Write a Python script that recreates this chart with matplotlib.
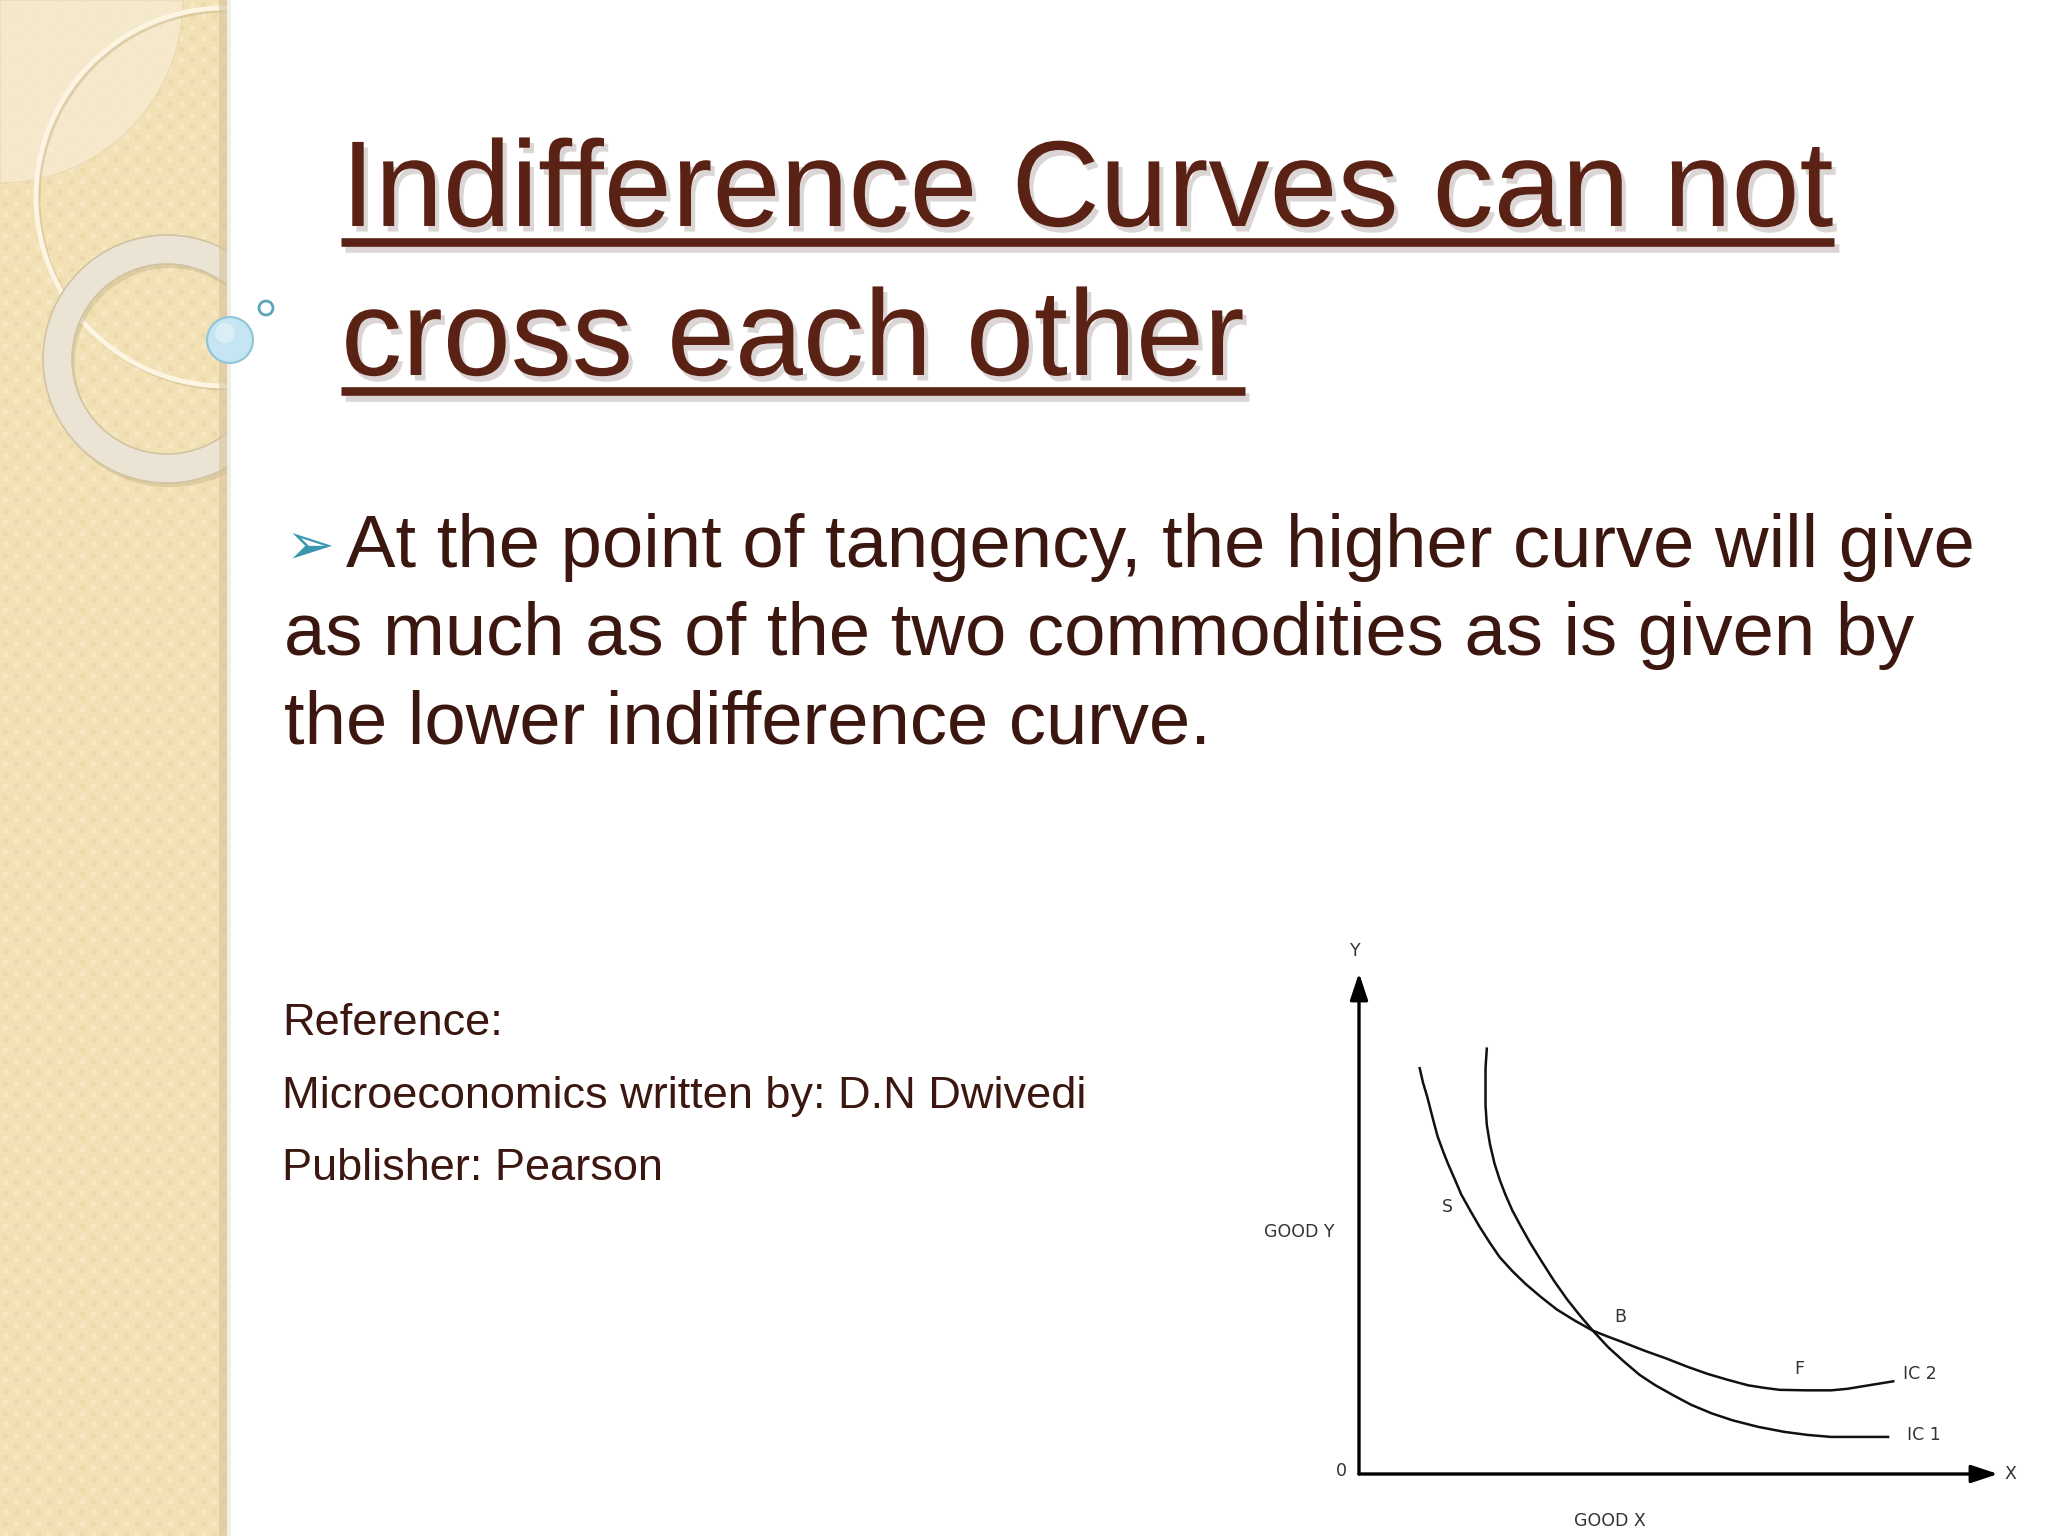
import numpy as np
import matplotlib
matplotlib.use("Agg")
import matplotlib.pyplot as plt
from matplotlib import patches
from matplotlib import patheffects as pe

# ---- slide text ----
title_lines = ["Indifference Curves can not", "cross each other"]
bullet_lines = ["At the point of tangency, the higher curve will give",
                "as much as of the two commodities as is given by",
                "the lower indifference curve."]
ref_lines = ["Reference:",
             "Microeconomics written by: D.N Dwivedi",
             "Publisher: Pearson"]

# ---- diagram data (axes run 0..10) ----
ic2_x = [0.95, 1.00, 1.07, 1.15, 1.23, 1.31, 1.39, 1.50, 1.60, 1.74, 1.88, 2.04, 2.20,
         2.40, 2.61, 2.85, 3.10, 3.38, 3.66, 3.90, 4.15, 4.47, 4.80, 5.12, 5.45,
         5.77, 6.09, 6.34, 6.58, 7.00, 7.39, 7.64, 7.88, 8.12, 8.36]
ic2_y = [8.10, 7.82, 7.52, 7.12, 6.74, 6.46, 6.20, 5.88, 5.58, 5.26, 4.95, 4.63, 4.33,
         4.05, 3.79, 3.53, 3.28, 3.06, 2.86, 2.74, 2.62, 2.46, 2.31, 2.15, 2.00,
         1.88, 1.77, 1.72, 1.68, 1.67, 1.67, 1.70, 1.75, 1.80, 1.85]
ic1_x = [2.00, 1.98, 1.98, 1.98, 2.00, 2.05, 2.12, 2.20, 2.29, 2.40, 2.53, 2.68, 2.85,
         3.05, 3.26, 3.46, 3.66, 3.90, 4.15, 4.39, 4.64, 4.92, 5.20, 5.52, 5.85,
         6.25, 6.66, 7.02, 7.39, 7.84, 8.28]
ic1_y = [8.49, 8.10, 7.75, 7.36, 6.97, 6.58, 6.20, 5.88, 5.58, 5.26, 4.95, 4.61, 4.26,
         3.86, 3.48, 3.16, 2.86, 2.53, 2.24, 1.98, 1.77, 1.57, 1.38, 1.21, 1.07,
         0.94, 0.84, 0.78, 0.74, 0.74, 0.74]
point_labels = ["S", "B", "F"]
point_x = [1.39, 4.09, 6.89]
point_y = [5.33, 3.13, 2.10]
curve_labels = ["IC 2", "IC 1"]
curve_label_x = [8.52, 8.58]
curve_label_y = [2.00, 0.78]

TITLE_C = "#5a2215"
BODY_C = "#3b1710"
SANS = ["Liberation Sans", "DejaVu Sans"]

W, H = 2048, 1536
fig = plt.figure(figsize=(W / 100, H / 100), dpi=100)
fig.patch.set_facecolor("white")

# background axes in pixel units (y down)
bg = fig.add_axes([0, 0, 1, 1])
bg.set_xlim(0, W)
bg.set_ylim(H, 0)
bg.axis("off")

# ---- left decorative strip ----
SB = 227
yy, xx = np.mgrid[0:H, 0:SB]
cell = 11
ix, iy = xx % cell, yy % cell
inner = (ix > 2) & (ix < 8) & (iy > 2) & (iy < 8)
checker = ((xx // cell + yy // cell) % 2 == 0)
tex = np.ones((H, SB, 3)) * np.array([243, 225, 182]) / 255
tex[checker & inner] = np.array([238, 217, 172]) / 255
tex[~checker & inner] = np.array([247, 232, 195]) / 255
bg.imshow(tex, extent=(0, SB, H, 0), interpolation="bilinear", zorder=0)

clip = patches.Rectangle((0, 0), SB, H, transform=bg.transData)

lens = patches.Wedge((0, 0), 183, 0, 90, facecolor="#f8edd3", edgecolor="#e8d7b0",
                     lw=1, alpha=0.75, zorder=1)
bg.add_patch(lens)
lens.set_clip_path(clip)

big_ring = patches.Circle((225, 197), 189, fill=False, edgecolor="#fcf5e2", lw=3.5, zorder=2,
                          path_effects=[pe.SimpleLineShadow(offset=(1.5, -1.5), shadow_color="#c9b48a", alpha=0.5),
                                        pe.Normal()])
bg.add_patch(big_ring)
big_ring.set_clip_path(clip)

thick_ring = patches.Annulus((167, 359), 124, 29, facecolor="#ebe4d4", edgecolor="#d2c3a2",
                             lw=1.2, zorder=3,
                             path_effects=[pe.SimplePatchShadow(offset=(2, -3), shadow_rgbFace="#b9a57c", alpha=0.35),
                                           pe.Normal()])
bg.add_patch(thick_ring)
thick_ring.set_clip_path(clip)

bg.add_patch(patches.Rectangle((SB - 8, 0), 8, H, facecolor="#d6c197", edgecolor="none", alpha=0.55, zorder=4))
bg.add_patch(patches.Rectangle((SB, 0), 4, H, facecolor="#e9e4da", edgecolor="none", alpha=0.6, zorder=4))

bg.add_patch(patches.Circle((230, 340), 23, facecolor="#c4e5f1", edgecolor="#8fc5d8", lw=1.5, zorder=5))
bg.add_patch(patches.Circle((225, 333), 10, facecolor="#e2f3f8", edgecolor="none", alpha=0.7, zorder=5))
bg.add_patch(patches.Circle((266, 308), 7, fill=False, edgecolor="#5aa6b8", lw=2, zorder=5))

# ---- title ----
shadow = [pe.SimplePatchShadow(offset=(3, -4), shadow_rgbFace="#8a7a74", alpha=0.3), pe.Normal()]
title_base = [226, 375]
title_objs = []
for txt, yb in zip(title_lines, title_base):
    t = bg.text(341, yb, txt, fontsize=88, color=TITLE_C, family=SANS,
                va="baseline", ha="left", zorder=6, path_effects=shadow)
    title_objs.append(t)

fig.canvas.draw()
for t, yb in zip(title_objs, title_base):
    bb = t.get_window_extent()
    bg.plot([341, bb.x1], [yb + 16, yb + 16], color=TITLE_C, lw=6.2, solid_capstyle="butt", zorder=6,
            path_effects=[pe.SimpleLineShadow(offset=(3, -4), shadow_color="#8a7a74", alpha=0.3), pe.Normal()])

# ---- bullet text ----
bg.text(286, 564, "\u27a2", fontsize=42, color="#3a97ae", family=["DejaVu Sans"],
        va="baseline", ha="left", zorder=6)
body_base = [567, 655, 743]
body_x = [346, 284, 284]
for txt, xb, yb in zip(bullet_lines, body_x, body_base):
    bg.text(xb, yb, txt, fontsize=53.5, color=BODY_C, family=SANS, va="baseline", ha="left", zorder=6)

ref_base = [1035, 1108, 1180]
for txt, yb in zip(ref_lines, ref_base):
    bg.text(282, yb, txt, fontsize=32.5, color=BODY_C, family=SANS, va="baseline", ha="left", zorder=6)

# ---- indifference curve diagram ----
ax = fig.add_axes([1359 / W, (H - 1474) / H, (1998 - 1359) / W, (1474 - 973) / H])
ax.set_xlim(0, 10)
ax.set_ylim(0, 10)
ax.axis("off")
ax.patch.set_alpha(0)

arrow = dict(arrowstyle="-|>,head_length=0.9,head_width=0.3", color="black", lw=2.4,
             shrinkA=0, shrinkB=0, mutation_scale=18)
ax.annotate("", xy=(10, 0), xytext=(0, 0), arrowprops=arrow, annotation_clip=False)
ax.annotate("", xy=(0, 10), xytext=(0, 0), arrowprops=arrow, annotation_clip=False)

ax.plot(ic2_x, ic2_y, color="#111111", lw=1.8, solid_joinstyle="round")
ax.plot(ic1_x, ic1_y, color="#111111", lw=1.8, solid_joinstyle="round")

lab = dict(fontsize=12.5, color="#333333", family="DejaVu Sans", clip_on=False)
for s, x, y in zip(point_labels, point_x, point_y):
    ax.text(x, y, s, ha="center", va="center", **lab)
for s, x, y in zip(curve_labels, curve_label_x, curve_label_y):
    ax.text(x, y, s, ha="left", va="center", **lab)
ax.text(-0.94, 4.84, "GOOD Y", ha="center", va="center", **lab)
ax.text(3.92, -0.93, "GOOD X", ha="center", va="center", **lab)
ax.text(-0.27, 0.05, "0", ha="center", va="center", **lab)
ax.text(-0.06, 10.43, "Y", ha="center", va="center", **lab)
ax.text(10.19, 0.0, "X", ha="center", va="center", **lab)

fig.savefig("out.png", dpi=100)
